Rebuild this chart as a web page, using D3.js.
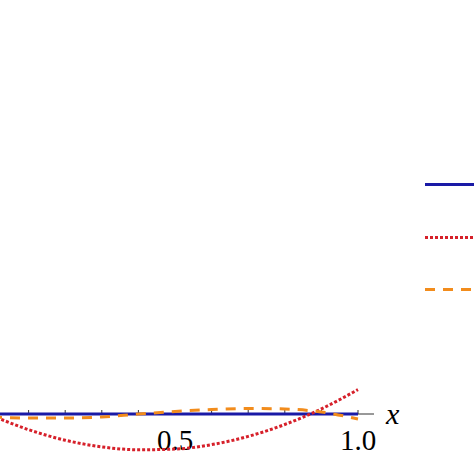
<!DOCTYPE html>
<html><head><meta charset="utf-8">
<script src="https://cdn.jsdelivr.net/npm/d3@7"></script>
<style>body{margin:0;background:#fff}svg{display:block}text{font-family:"Liberation Serif","Times New Roman",serif}</style>
</head><body>
<svg width="474" height="474"></svg>
<script>
var xs = [0, 0.1, 0.2, 0.3, 0.4, 0.5, 0.6, 0.7, 0.8, 0.9, 1.0];
var blue = [0, 0, 0, 0, 0, 0, 0, 0, 0, 0, 0];
var red = [-1.6, -15.7, -26.2, -32.9, -35.8, -35.1, -30.6, -22.4, -10.5, 5.1, 24.4];
var orange = [-3, -4, -4, -3, 0, 2.5, 4.5, 5.5, 5, 2, -5];
var tickVals = [0.1, 0.2, 0.3, 0.4, 0.5, 0.6, 0.7, 0.8, 0.9, 1.0];
var tickLabels = ["0.5", "1.0"];

var svg = d3.select("svg");
var x = d3.scaleLinear().domain([0, 1]).range([-8, 358]);
var y = d3.scaleLinear().domain([-40, 40]).range([454, 374]);

// axis
svg.append("line").attr("x1", 0).attr("x2", 374)
    .attr("y1", y(0)).attr("y2", y(0)).attr("stroke", "#333").attr("stroke-width", 1);
svg.selectAll(".tk").data(tickVals).enter().append("line")
    .attr("x1", function(d) { return x(d); }).attr("x2", function(d) { return x(d); })
    .attr("y1", y(0)).attr("y2", y(0) - 4).attr("stroke", "#333");
svg.selectAll(".tl").data(tickLabels).enter().append("text")
    .attr("x", function(d) { return x(+d); }).attr("y", 450)
    .attr("text-anchor", "middle")
    .style("font-size", "29px")
    .text(function(d) { return d; });
svg.append("text").attr("x", 386).attr("y", 424)
    .style("font-style", "italic").style("font-size", "30px")
    .text("x");

var series = [
    { v: blue, c: "#1a1aa6", dash: null, ly: 184.5 },
    { v: red, c: "#d6202a", dash: "3,2", ly: 237.5 },
    { v: orange, c: "#f28c1c", dash: "10,8", ly: 289.5 }
];
var line = d3.line().curve(d3.curveMonotoneX);
series.forEach(function(s) {
    svg.append("path")
        .attr("d", line(xs.map(function(d, i) { return [x(d), y(s.v[i])]; })))
        .attr("fill", "none").attr("stroke", s.c).attr("stroke-width", 3)
        .attr("stroke-dasharray", s.dash);
    svg.append("line").attr("x1", 425).attr("x2", 480)
        .attr("y1", s.ly).attr("y2", s.ly)
        .attr("stroke", s.c).attr("stroke-width", 3).attr("stroke-dasharray", s.dash);
});
</script>
</body></html>
